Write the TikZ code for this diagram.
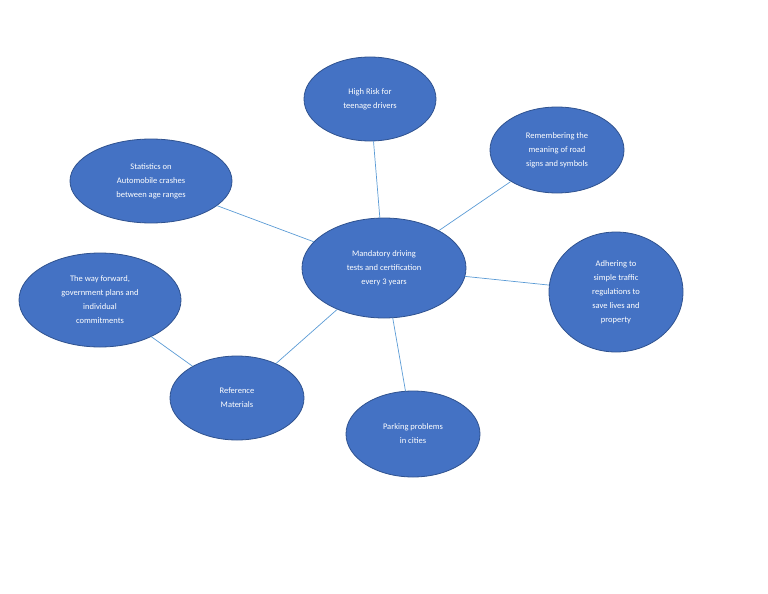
\documentclass[tikz,border=0pt]{standalone}
\usepackage{fontspec}
\setmainfont{Carlito}
\usetikzlibrary{shapes.geometric}
\definecolor{bfill}{HTML}{4472C4}
\definecolor{bedge}{HTML}{2F528F}
\definecolor{lnk}{HTML}{5B9BD5}
\tikzset{
 bub/.style={ellipse,fill=bfill,draw=bedge,line width=0.8pt,text=white,align=center,inner sep=0pt,font=\fontsize{8.5}{14}\selectfont},
 lnkline/.style={draw=lnk,line width=0.7pt}
}
\begin{document}
\begin{tikzpicture}[x=1pt,y=-1pt]
\useasboundingbox (0,0) rectangle (768,594);
\node[bub,minimum width=164pt,minimum height=100pt] (c) at (384,268) {Mandatory driving\\tests and certification\\every 3 years};
\node[bub,minimum width=132pt,minimum height=84pt] (hr) at (370,99) {High Risk for\\teenage drivers};
\node[bub,minimum width=134pt,minimum height=86pt] (rm) at (557,150) {Remembering the\\meaning of road\\signs and symbols};
\node[bub,minimum width=162pt,minimum height=84pt] (st) at (151,181) {Statistics on\\Automobile crashes\\between age ranges};
\node[bub,minimum width=134pt,minimum height=120pt] (ad) at (616,292) {Adhering to\\simple traffic\\regulations to\\save lives and\\property};
\node[bub,minimum width=162pt,minimum height=94pt] (wf) at (100,300) {The way forward,\\government plans and\\individual\\commitments};
\node[bub,minimum width=134pt,minimum height=84pt] (rf) at (237,398) {Reference\\Materials};
\node[bub,minimum width=134pt,minimum height=86pt] (pk) at (413,434) {Parking problems\\in cities};
\draw[lnkline] (c) -- (hr);
\draw[lnkline] (c) -- (rm);
\draw[lnkline] (c) -- (st);
\draw[lnkline] (c) -- (ad);
\draw[lnkline] (c) -- (pk);
\draw[lnkline] (c) -- (rf);
\draw[lnkline] (rf) -- (wf);
\end{tikzpicture}
\end{document}
